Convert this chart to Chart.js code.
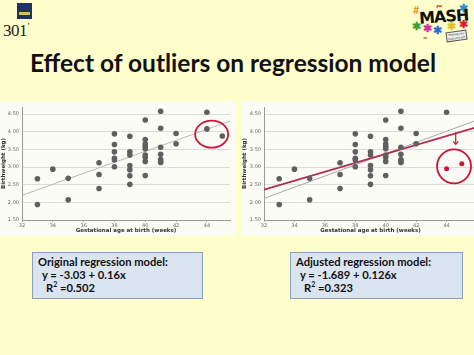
<!DOCTYPE html>
<html>
<head>
<meta charset="utf-8">
<script src="https://cdn.jsdelivr.net/npm/chart.js@4/dist/chart.umd.min.js"></script>
<style>
  html, body { margin:0; padding:0; }
  body { width:474px; height:355px; overflow:hidden; background:#ffffcc; position:relative; font-family:Lato, "Open Sans", sans-serif; }
  .abs { position:absolute; }
  #title { left:0; width:466px; top:48px; height:30px; line-height:30px; text-align:center; font-weight:700; font-size:24.5px; color:#111; white-space:nowrap; }
  canvas.ch { position:absolute; background:#fcfcf6; }
  .box { position:absolute; background:#dbe5f1; border:1.5px solid #8c9fb8; box-sizing:border-box; font-weight:700; font-size:11.2px; color:#111; line-height:12.8px; padding-top:3px; }
  .box div { white-space:nowrap; }
  #logo1 { left:17px; top:3px; width:15px; height:16px; background:#1f3268; }
  #logo1s { left:19px; top:12px; width:11px; height:3px; background:#d9c24a; }
  #logo1t { left:3px; top:21px; font-family:"Liberation Serif", "DejaVu Serif", serif; font-size:17px; color:#222; letter-spacing:-0.5px; }
  #mash { left:419px; top:7px; font-family:"DejaVu Sans", sans-serif; font-weight:900; font-size:16px; color:#111; letter-spacing:-1px; transform:rotate(-4deg); }
  .st { position:absolute; font-size:11px; font-weight:700; line-height:11px; }
  #sign { left:446px; top:31px; width:19px; height:8px; background:#eee; border:1px solid #555; transform:rotate(-8deg); font-size:3px; line-height:4px; color:#333; text-align:center; }
</style>
</head>
<body>
<div id="logo1" class="abs"></div>
<div id="logo1s" class="abs"></div>
<div id="logo1t" class="abs">301<span style="font-size:9px;vertical-align:top;">’</span></div>

<div class="st" style="left:413px;top:4px;color:#e39b2a;">#</div>
<div class="st" style="left:436px;top:0px;color:#d4202f;">~</div>
<div class="st" style="left:459px;top:2px;color:#2a8fd4;">✱</div>
<div class="st" style="left:412px;top:20px;color:#3aa03a;">✱</div>
<div class="st" style="left:423px;top:22px;color:#d42fa0;">✱</div>
<div class="st" style="left:433px;top:24px;color:#2a6fd4;">✱</div>
<div class="st" style="left:447px;top:20px;color:#e3c02a;">✱</div>
<div class="st" style="left:459px;top:18px;color:#d4202f;">✱</div>
<div class="st" style="left:423px;top:32px;color:#d4202f;font-size:8px;">=</div>
<div id="mash" class="abs">MASH</div>
<div id="sign" class="abs">Helping you help yourself</div>

<div id="title" class="abs">Effect of outliers on regression model</div>

<canvas id="c1" class="ch" width="236" height="135" style="left:0px;top:101px;"></canvas>
<canvas id="c2" class="ch" width="240" height="135" style="left:241px;top:101px;"></canvas>

<div class="box" style="left:32px;top:252px;width:171px;height:47px;padding-left:5px;">
  <div>Original regression model:</div>
  <div style="padding-left:4px;">y = -3.03 + 0.16x</div>
  <div style="padding-left:8px;">R<sup style="font-size:7px;line-height:0;">2</sup> =0.502</div>
</div>
<div class="box" style="left:290px;top:252px;width:173px;height:47px;padding-left:5px;">
  <div>Adjusted regression model:</div>
  <div style="padding-left:4px;">y = -1.689 + 0.126x</div>
  <div style="padding-left:8px;">R<sup style="font-size:7px;line-height:0;">2</sup> =0.323</div>
</div>

<script>
// ---- data ----
const xTicks = [32, 34, 36, 38, 40, 42, 44];
const yTicks = [1.5, 2.0, 2.5, 3.0, 3.5, 4.0, 4.5];

// original data (gestational age weeks, birthweight kg)
const origX = [33,33,34,35,35,37,37,37,38,38,38,38,38,38,39,39,39,39,39,39,39,40,40,40,40,40,40,40,40,40,41,41,41,41,41,41,41,42,42,44,44,45];
const origY = [2.67,1.94,2.94,2.68,2.07,3.12,2.79,2.39,3.94,3.64,3.43,3.25,3.20,3.01,3.87,3.43,3.34,3.04,2.92,2.75,2.51,4.33,3.78,3.65,3.59,3.52,3.34,3.28,3.16,2.76,4.58,4.10,3.56,3.36,3.21,3.16,3.13,3.95,3.66,4.55,4.08,3.88];

// indices of the two outliers that were adjusted
const outlierIdx = [40, 41];
// adjusted outlier values
const adjX = [44, 45];
const adjY = [2.95, 3.09];

// regression lines (end points)
const origLineX = [32, 45.5];
const origLineY = [2.20, 4.30];
const origLine2X = [32, 46];
const origLine2Y = [2.11, 4.33];
const adjLineX = [32, 46];
const adjLineY = [2.36, 4.13];

// annotation anchors (data coordinates)
const ring1 = {x: 44.31, y: 3.93};
const ring2 = {x: 44.49, y: 3.02};
const arrow2 = {x: 44.6, y1: 3.98, y2: 3.64};

const toPts = (xs, ys) => xs.map((x, i) => ({x: x, y: ys[i]}));

const GRAY_DOT = '#5f5f5f';
const RED = '#c8173a';

function scales(xMax, yW) {
  return {
    x: {
      type: 'linear', min: 32, max: xMax,
      afterBuildTicks: s => { s.ticks = xTicks.map(v => ({value: v})); },
      afterFit: s => { s.height = 16; },
      grid: { drawOnChartArea: false, drawTicks: true, tickLength: 2, color: '#aaa' },
      border: { color: '#9a9a9a', width: 1 },
      ticks: { font: {size: 5, family: 'DejaVu Sans'}, color: '#666', padding: 1, maxRotation: 0, callback: v => String(v) },
      title: { display: true, text: 'Gestational age at birth (weeks)', font: {size: 5.5, family: 'DejaVu Sans', weight: 'bold'}, color: '#333', padding: {top: 1, bottom: 2} }
    },
    y: {
      type: 'linear', min: 1.5, max: 4.7,
      afterBuildTicks: s => { s.ticks = yTicks.map(v => ({value: v})); },
      afterFit: s => { s.width = yW; },
      grid: { drawTicks: false, color: '#dcdcdc', lineWidth: 1 },
      border: { color: '#9a9a9a', width: 1 },
      ticks: { font: {size: 5, family: 'DejaVu Sans'}, color: '#666', padding: 3, callback: v => Number(v).toFixed(2) },
      title: { display: true, text: 'Birthweight (kg)', font: {size: 5.5, family: 'DejaVu Sans', weight: 'bold'}, color: '#333', padding: {top: 0, bottom: 0} }
    }
  };
}

const annot = {
  id: 'annot',
  afterDatasetsDraw(chart, args, opts) {
    const ctx = chart.ctx, sx = chart.scales.x, sy = chart.scales.y;
    ctx.save();
    ctx.strokeStyle = RED; ctx.lineWidth = 1.8;
    if (opts.ring) {
      const cx = sx.getPixelForValue(opts.ring.x), cy = sy.getPixelForValue(opts.ring.y);
      ctx.beginPath(); ctx.ellipse(cx, cy, opts.rx, opts.ry, 0, 0, Math.PI * 2); ctx.stroke();
    }
    if (opts.arrow) {
      const ax = sx.getPixelForValue(opts.arrow.x), y1 = sy.getPixelForValue(opts.arrow.y1), y2 = sy.getPixelForValue(opts.arrow.y2);
      ctx.lineWidth = 1.2;
      ctx.beginPath(); ctx.moveTo(ax, y1); ctx.lineTo(ax, y2); ctx.stroke();
      ctx.beginPath(); ctx.moveTo(ax - 2.5, y2 - 3); ctx.lineTo(ax, y2); ctx.lineTo(ax + 2.5, y2 - 3); ctx.stroke();
    }
    ctx.restore();
  }
};

const common = {
  responsive: false, animation: false, devicePixelRatio: 1,
  events: [],
  plugins: { legend: {display: false}, tooltip: {enabled: false} }
};

// Left: original
new Chart(document.getElementById('c1'), {
  type: 'scatter',
  data: { datasets: [
    { data: toPts(origX, origY), backgroundColor: GRAY_DOT, borderWidth: 0, pointRadius: 2.8, order: 0 },
    { data: toPts(origLineX, origLineY), showLine: true, borderColor: '#b8b8b8', borderWidth: 1, pointRadius: 0, order: 1 }
  ]},
  options: Object.assign({}, common, {
    layout: { padding: { top: 1, right: 6, left: 0, bottom: 0 } },
    scales: scales(45.5, 22),
    plugins: Object.assign({}, common.plugins, { annot: { ring: ring1, rx: 16.5, ry: 13.5 } })
  }),
  plugins: [annot]
});

// Right: adjusted
const keepX = origX.filter((v, i) => !outlierIdx.includes(i));
const keepY = origY.filter((v, i) => !outlierIdx.includes(i));
new Chart(document.getElementById('c2'), {
  type: 'scatter',
  data: { datasets: [
    { data: toPts(keepX, keepY), backgroundColor: GRAY_DOT, borderWidth: 0, pointRadius: 2.8, order: 0 },
    { data: toPts(adjX, adjY), backgroundColor: RED, borderWidth: 0, pointRadius: 2.5, order: 0 },
    { data: toPts(origLine2X, origLine2Y), showLine: true, borderColor: '#a8a8a8', borderWidth: 1, pointRadius: 0, order: 2 },
    { data: toPts(adjLineX, adjLineY), showLine: true, borderColor: '#b5274f', borderWidth: 1.6, pointRadius: 0, order: 1 }
  ]},
  options: Object.assign({}, common, {
    layout: { padding: { top: 1, right: 2, left: 0, bottom: 0 } },
    scales: scales(46, 23),
    plugins: Object.assign({}, common.plugins, { annot: { ring: ring2, rx: 17, ry: 17, arrow: arrow2 } })
  }),
  plugins: [annot]
});
</script>
</body>
</html>
